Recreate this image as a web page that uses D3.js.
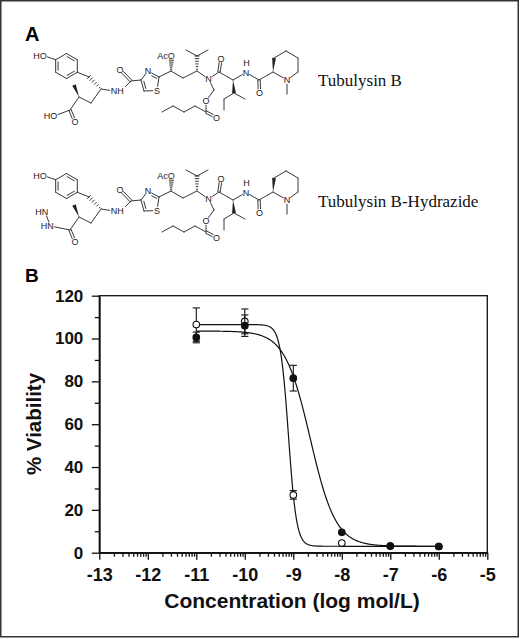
<!DOCTYPE html>
<html>
<head>
<meta charset="utf-8">
<script src="https://cdn.jsdelivr.net/npm/d3@7"></script>
<style>
  body { margin: 0; background: #fff; }
  svg { display: block; }
</style>
</head>
<body>
<div id="svg-container"></div>
<script>
////////////////////////////////////////////////////////////////////
////////////////////////////  Data  ////////////////////////////////
const concLog = [-11, -10, -9, -8, -7, -6];
const viabTubB = [100.5, 106, 81.5, 9.5, 3.1, 2.9];
const semTubB = [2.5, 5, 6, 0, 0, 0];
const viabHydr = [106.5, 108, 27, 4.5, 3.1, 2.9];
const semHydr = [7.8, 5.8, 2, 0, 0, 0];
// 4-parameter logistic fits: top, bottom, logIC50, hill slope
const fitTubB = [103.5, 3, -8.65, 1.65];
const fitHydr = [106.5, 3, -9.1, 5.2];
const xTickVals = [-13, -12, -11, -10, -9, -8, -7, -6, -5];
const yTickVals = [0, 20, 40, 60, 80, 100, 120];
const yMinorVals = [10, 30, 50, 70, 90, 110];
const compoundNames = ["Tubulysin B", "Tubulysin B-Hydrazide"];
const panelLabels = ["A", "B"];

////////////////////////////////////////////////////////////////////
////////////////////////////  Init  ////////////////////////////////
const width = 520;
const height = 639;
const svg = d3.select("#svg-container").append("svg")
  .attr("width", width).attr("height", height);

const sans = "'Liberation Sans', Arial, Helvetica, sans-serif";
const serif = "'Liberation Serif', 'Times New Roman', serif";

svg.append("rect")
  .attr("x", 0.75).attr("y", 0.75)
  .attr("width", 517.5).attr("height", 636)
  .attr("fill", "none").attr("stroke", "#333").attr("stroke-width", 1.5);

svg.selectAll(".panel-label")
  .data(panelLabels)
  .enter().append("text")
  .attr("x", 25)
  .attr("y", (d, i) => (i === 0 ? 41 : 282))
  .attr("font-family", sans).attr("font-weight", "bold")
  .attr("font-size", (d, i) => (i === 0 ? 20 : 19))
  .text((d) => d);

////////////////////////////////////////////////////////////////////
////////////////////////////  Structures  //////////////////////////
// skeletal drawing, coordinates of the upper molecule
const ink = "#222";
const benz = [66.5, 66, 12.5];
const atoms = {
  oh: [43.5, 55.5, "HO", "end"],
  cb: [89, 77], c1: [101, 89],
  nh1: [114, 91, "NH", "start"], nh1b: [125.5, 86.5],
  c2: [91, 103], c3: [79, 97], me: [74, 85],
  c4: [70, 110], o4: [75, 122, "O"], oh4: [54, 116, "HO", "end"],
  c5: [131, 81], o5: [120, 69.5, "O"],
  t4: [141, 80], tn: [148, 71, "N"], t2: [159, 77], ts: [157, 90.5, "S"], t5: [144, 91],
  c6: [171, 71], oac: [171.5, 56, "AcO", "end"], c7: [183, 78], c8: [197, 71],
  c9: [197, 56], c9a: [186, 50], c9b: [208, 50],
  n1: [208.5, 79, "N"], c10: [214, 90], oe: [206, 101, "O"], c11: [206, 112],
  o11: [216.5, 117.5, "O"], b1: [195, 106], b2: [184, 112], b3: [173, 106], b4: [162, 112],
  c12: [219, 72], o12: [221, 58.5, "O"], c13: [233, 80], c14: [234, 93],
  c14m: [245, 99], c15: [224, 99], c16: [224, 110],
  n2: [246, 72.5, "N"], n2h: [246.5, 63, "H"],
  c17: [259, 80], o17: [259.5, 93, "O"],
  c18: [273, 72], c19: [274, 58], c20: [286, 51], c21: [298, 58], c22: [298, 72],
  n3: [287, 80, "N"], n3m: [287, 94],
  // hydrazide group
  hnA: [50.5, 106, "HN", "end"], hnB: [45, 92, "HN", "end"]
};
d3.range(6).forEach((k) => {
  const a = ((-150 + 60 * k) * Math.PI) / 180;
  atoms["r" + k] = [benz[0] + benz[2] * Math.cos(a), benz[1] + benz[2] * Math.sin(a)];
});
const thz = [149.8, 81.9];

const bondsCommon = [
  ["r0", "r1", "s"], ["r1", "r2", "s"], ["r2", "r3", "s"], ["r3", "r4", "s"],
  ["r4", "r5", "s"], ["r5", "r0", "s"],
  ["r1", "r2", "i", benz], ["r3", "r4", "i", benz], ["r5", "r0", "i", benz],
  ["r0", "oh", "s"], ["r3", "cb", "s"], ["c1", "cb", "h"], ["c1", "nh1", "s"],
  ["c1", "c2", "s"], ["c2", "c3", "s"], ["c3", "me", "w"], ["c3", "c4", "s"],
  ["c4", "o4", "d"],
  ["nh1b", "c5", "s"], ["c5", "o5", "d"], ["c5", "t4", "s"],
  ["t4", "tn", "s"], ["tn", "t2", "s"], ["t2", "ts", "s"], ["ts", "t5", "s"], ["t5", "t4", "s"],
  ["t4", "t5", "i", thz], ["tn", "t2", "i", thz],
  ["t2", "c6", "s"], ["c6", "oac", "h"], ["c6", "c7", "s"], ["c7", "c8", "s"],
  ["c8", "c9", "h"], ["c9", "c9a", "s"], ["c9", "c9b", "s"], ["c8", "n1", "s"],
  ["n1", "c10", "s"], ["c10", "oe", "s"], ["oe", "c11", "s"], ["c11", "o11", "d"],
  ["c11", "b1", "s"], ["b1", "b2", "s"], ["b2", "b3", "s"], ["b3", "b4", "s"],
  ["n1", "c12", "s"], ["c12", "o12", "d"], ["c12", "c13", "s"], ["c13", "c14", "w"],
  ["c14", "c14m", "s"], ["c14", "c15", "s"], ["c15", "c16", "s"],
  ["c13", "n2", "s"], ["n2", "c17", "s"], ["c17", "o17", "d"], ["c17", "c18", "s"],
  ["c18", "c19", "w"], ["c19", "c20", "s"], ["c20", "c21", "s"], ["c21", "c22", "s"],
  ["c22", "n3", "s"], ["n3", "c18", "s"], ["n3", "n3m", "s"]
];
const bondsAcid = [["c4", "oh4", "s"]];
const bondsHydrazide = [["c4", "hnA", "s"], ["hnA", "hnB", "s"]];

function ends(a, b) {
  const A = atoms[a], B = atoms[b];
  const dx = B[0] - A[0], dy = B[1] - A[1];
  const len = Math.hypot(dx, dy);
  const ux = dx / len, uy = dy / len;
  const ga = A[2] ? 4.2 : 0, gb = B[2] ? 4.2 : 0;
  return {
    x1: A[0] + ux * ga, y1: A[1] + uy * ga,
    x2: B[0] - ux * gb, y2: B[1] - uy * gb,
    ux, uy, nx: -uy, ny: ux
  };
}

function drawMolecule(dy, bonds, labelIds) {
  const g = svg.append("g").attr("transform", `translate(0,${dy})`);
  const path = d3.path();
  const fills = [];
  bonds.forEach(([a, b, type, ref]) => {
    const e = ends(a, b);
    if (type === "s") {
      path.moveTo(e.x1, e.y1); path.lineTo(e.x2, e.y2);
    } else if (type === "d") {
      [-1.2, 1.2].forEach((o) => {
        path.moveTo(e.x1 + e.nx * o, e.y1 + e.ny * o);
        path.lineTo(e.x2 + e.nx * o, e.y2 + e.ny * o);
      });
    } else if (type === "i") {
      const mx = (e.x1 + e.x2) / 2, my = (e.y1 + e.y2) / 2;
      const s = (ref[0] - mx) * e.nx + (ref[1] - my) * e.ny > 0 ? 2.4 : -2.4;
      const L = Math.hypot(e.x2 - e.x1, e.y2 - e.y1);
      const sh = L * 0.17;
      path.moveTo(e.x1 + e.ux * sh + e.nx * s, e.y1 + e.uy * sh + e.ny * s);
      path.lineTo(e.x2 - e.ux * sh + e.nx * s, e.y2 - e.uy * sh + e.ny * s);
    } else if (type === "w") {
      fills.push([
        [e.x1, e.y1],
        [e.x2 + e.nx * 1.9, e.y2 + e.ny * 1.9],
        [e.x2 - e.nx * 1.9, e.y2 - e.ny * 1.9]
      ]);
    } else if (type === "h") {
      d3.range(6).forEach((k) => {
        const t = 0.12 + (k / 5) * 0.88;
        const w = 0.4 + t * 1.8;
        const px = e.x1 + (e.x2 - e.x1) * t, py = e.y1 + (e.y2 - e.y1) * t;
        path.moveTo(px + e.nx * w, py + e.ny * w);
        path.lineTo(px - e.nx * w, py - e.ny * w);
      });
    }
  });
  g.append("path").attr("d", path.toString())
    .attr("fill", "none").attr("stroke", ink).attr("stroke-width", 0.9)
    .attr("stroke-linecap", "round");
  g.selectAll(".wedge").data(fills).enter().append("path")
    .attr("d", (d) => "M" + d.join("L") + "Z").attr("fill", ink);
  g.selectAll(".atom").data(labelIds).enter().append("text")
    .attr("x", (id) => {
      const a = atoms[id];
      return a[3] === "end" ? a[0] + 3.3 : a[3] === "start" ? a[0] - 3.3 : a[0];
    })
    .attr("y", (id) => atoms[id][1] + 3.2)
    .attr("text-anchor", (id) => atoms[id][3] || "middle")
    .attr("font-family", sans).attr("font-size", 9).attr("fill", ink)
    .text((id) => atoms[id][2]);
  return g;
}

const labelsCommon = ["oh", "nh1", "o4", "o5", "tn", "ts", "oac", "n1", "oe", "o11",
  "o12", "n2", "n2h", "o17", "n3"];
drawMolecule(0, bondsCommon.concat(bondsAcid), labelsCommon.concat(["oh4"]));
drawMolecule(120, bondsCommon.concat(bondsHydrazide), labelsCommon.concat(["hnA", "hnB"]));

svg.selectAll(".compound")
  .data(compoundNames)
  .enter().append("text")
  .attr("x", 318)
  .attr("y", (d, i) => 86 + i * 121)
  .attr("font-family", serif).attr("font-size", 17).attr("fill", "#111")
  .text((d) => d);

////////////////////////////////////////////////////////////////////
////////////////////////////  Chart  ///////////////////////////////
const plot = { left: 99.3, right: 487.3, top: 295.7, bottom: 552.7 };
const xScale = d3.scaleLinear().domain([-13, -5]).range([plot.left, plot.right]);
const yScale = d3.scaleLinear().domain([0, 120]).range([plot.bottom, plot.top]);

const xMinorVals = [];
xTickVals.slice(0, -1).forEach((d) => {
  d3.range(2, 10).forEach((k) => xMinorVals.push(d + Math.log10(k)));
});

const xAxis = d3.axisBottom(xScale).tickValues(xTickVals).tickSize(7)
  .tickSizeOuter(0).tickPadding(8.2).tickFormat((d) => String(d));
const xMinor = d3.axisBottom(xScale).tickValues(xMinorVals).tickSize(4)
  .tickSizeOuter(0).tickFormat("");
const yAxis = d3.axisLeft(yScale).tickValues(yTickVals).tickSize(7.5)
  .tickSizeOuter(0).tickPadding(8.5);
const yMinor = d3.axisLeft(yScale).tickValues(yMinorVals).tickSize(4.5)
  .tickSizeOuter(0).tickFormat("");

function styleAxis(g, size) {
  g.selectAll("path, line").attr("stroke", "#111").attr("stroke-width", 1.3);
  g.selectAll("text").attr("font-family", sans).attr("font-weight", "bold")
    .attr("font-size", size).attr("fill", "#111");
}

svg.append("g").attr("transform", `translate(0,${plot.bottom})`).call(xMinor)
  .call((g) => styleAxis(g, 18));
svg.append("g").attr("transform", `translate(0,${plot.bottom})`).call(xAxis)
  .call((g) => styleAxis(g, 18));
svg.append("g").attr("transform", `translate(${plot.left},0)`).call(yMinor)
  .call((g) => styleAxis(g, 17));
svg.append("g").attr("transform", `translate(${plot.left},0)`).call(yAxis)
  .call((g) => styleAxis(g, 17));

svg.append("rect")
  .attr("x", plot.left).attr("y", plot.top)
  .attr("width", plot.right - plot.left).attr("height", plot.bottom - plot.top)
  .attr("fill", "none").attr("stroke", "#111").attr("stroke-width", 1.3);

svg.append("text")
  .attr("x", 292).attr("y", 608)
  .attr("text-anchor", "middle")
  .attr("font-family", sans).attr("font-weight", "bold").attr("font-size", 21)
  .attr("fill", "#111")
  .text("Concentration (log mol/L)");

svg.append("text")
  .attr("transform", "translate(41,424) rotate(-90)")
  .attr("text-anchor", "middle")
  .attr("font-family", sans).attr("font-weight", "bold").attr("font-size", 20.5)
  .attr("fill", "#111")
  .text("% Viability");

// fitted curves
const logistic = (p) => (x) => p[1] + (p[0] - p[1]) / (1 + Math.pow(10, (x - p[2]) * p[3]));
const xs = d3.range(0, 401).map((i) => -11 + (i * 5) / 400);
const line = d3.line().x((d) => xScale(d[0])).y((d) => yScale(d[1]));

[fitHydr, fitTubB].forEach((p) => {
  const f = logistic(p);
  svg.append("path")
    .attr("d", line(xs.map((x) => [x, f(x)])))
    .attr("fill", "none").attr("stroke", "#111").attr("stroke-width", 1.2);
});

// error bars and markers
const series = [
  { vals: viabHydr, sem: semHydr, open: true },
  { vals: viabTubB, sem: semTubB, open: false }
];

series.forEach((s) => {
  const pts = concLog.map((c, i) => ({ x: c, y: s.vals[i], e: s.sem[i] }));
  const eb = svg.append("g");
  const withErr = pts.filter((d) => d.e > 0);
  eb.selectAll("line.v").data(withErr).enter().append("line")
    .attr("x1", (d) => xScale(d.x)).attr("x2", (d) => xScale(d.x))
    .attr("y1", (d) => yScale(d.y - d.e)).attr("y2", (d) => yScale(d.y + d.e))
    .attr("stroke", "#111").attr("stroke-width", 1.1);
  [-1, 1].forEach((sgn) => {
    eb.selectAll("line.cap" + sgn).data(withErr).enter().append("line")
      .attr("x1", (d) => xScale(d.x) - 3.6).attr("x2", (d) => xScale(d.x) + 3.6)
      .attr("y1", (d) => yScale(d.y + sgn * d.e)).attr("y2", (d) => yScale(d.y + sgn * d.e))
      .attr("stroke", "#111").attr("stroke-width", 1.1);
  });
  svg.append("g").selectAll("circle").data(pts).enter().append("circle")
    .attr("cx", (d) => xScale(d.x)).attr("cy", (d) => yScale(d.y))
    .attr("r", 3.3)
    .attr("fill", s.open ? "#fff" : "#111")
    .attr("stroke", "#111").attr("stroke-width", 1.1);
});
</script>
</body>
</html>
